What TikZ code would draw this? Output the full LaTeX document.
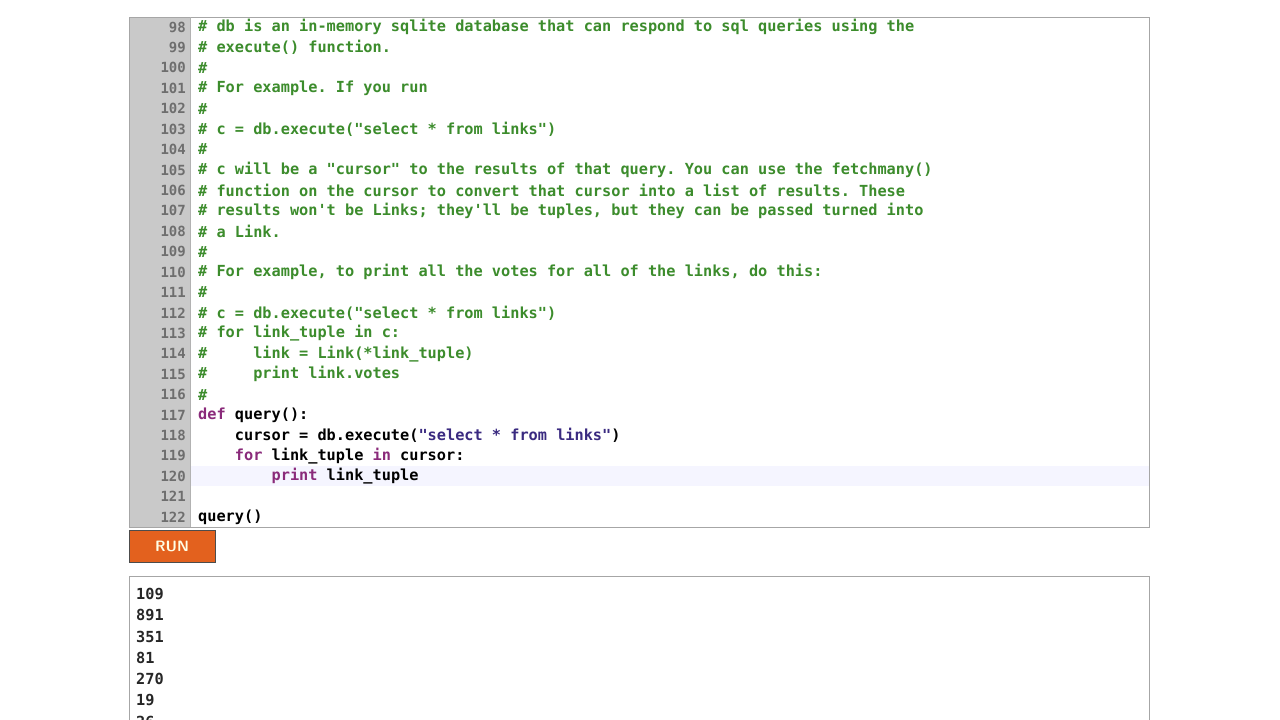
\documentclass[tikz,border=0pt]{standalone}
\usepackage{fontspec}
\setmonofont{DejaVu Sans Mono}
\definecolor{cmt}{HTML}{3C8C2C}
\definecolor{kw}{HTML}{8A2A7A}
\definecolor{str}{HTML}{3A2A80}
\definecolor{gut}{HTML}{C9C9C9}
\definecolor{num}{HTML}{6E6E6E}
\definecolor{runor}{HTML}{E3611E}
\newcommand\Kw[1]{\textcolor{kw}{#1}}
\newcommand\Sx[1]{\textcolor{str}{#1}}
\newcommand\CL[2]{\node[code,text=cmt] (c#1) at (198,{27+20.42*(#1-98)}) {#2};}
\begin{document}
\begin{tikzpicture}[x=1pt,y=-1pt,
  code/.style={anchor=west,inner sep=0pt,font=\ttfamily\bfseries\fontsize{15.25}{16}\selectfont},
  lnum/.style={anchor=east,inner sep=0pt,text=num,font=\ttfamily\bfseries\fontsize{14}{16}\selectfont}]
\useasboundingbox (0,0) rectangle (1280,720);
\fill[white] (0,0) rectangle (1280,720);
% editor
\fill[gut] (129,17) rectangle (190,527);
\fill[blue!4] (190,466) rectangle (1149,486);
\draw[gray!70,line width=1pt] (129,17) rectangle (1149,527);
\draw[gray!60] (190,17) -- (190,527);
\foreach \n [count=\i from 0] in {98,...,122}
  \node[lnum] (n\n) at (186,{27+20.42*\i}) {\n};
\CL{98}{\# db is an in-memory sqlite database that can respond to sql queries using the}
\CL{99}{\# execute() function.}
\CL{100}{\#}
\CL{101}{\# For example. If you run}
\CL{102}{\#}
\CL{103}{\# c = db.execute("select * from links")}
\CL{104}{\#}
\CL{105}{\# c will be a "cursor" to the results of that query. You can use the fetchmany()}
\CL{106}{\# function on the cursor to convert that cursor into a list of results. These}
\CL{107}{\# results won't be Links; they'll be tuples, but they can be passed turned into}
\CL{108}{\# a Link.}
\CL{109}{\#}
\CL{110}{\# For example, to print all the votes for all of the links, do this:}
\CL{111}{\#}
\CL{112}{\# c = db.execute("select * from links")}
\CL{113}{\# for link\_tuple in c:}
\CL{114}{\#\ \ \ \ \ link = Link(*link\_tuple)}
\CL{115}{\#\ \ \ \ \ print link.votes}
\CL{116}{\#}
\node[code] (c117) at (198,{27+20.42*19}) {\Kw{def} query():};
\node[code] (c118) at (198,{27+20.42*20}) {\ \ \ \ cursor = db.execute(\Sx{"select * from links"})};
\node[code] (c119) at (198,{27+20.42*21}) {\ \ \ \ \Kw{for} link\_tuple \Kw{in} cursor:};
\node[code] (c120) at (198,{27+20.42*22}) {\ \ \ \ \ \ \ \ \Kw{print} link\_tuple};
\node[code] (c122) at (198,{27+20.42*24}) {query()};
% run button
\node[draw=black!70,fill=runor,minimum width=86,minimum height=32,inner sep=0pt,text=white!90!yellow,
  font=\sffamily\bfseries\fontsize{15}{16}\selectfont] (run) at (172,546) {RUN};
% output
\draw[gray!70,line width=1pt] (129,725) -- (129,576) -- (1149,576) -- (1149,725);
\foreach \v [count=\i from 0] in {109,891,351,81,270,19,26}
  \node[code,text=black!85] (o\i) at (136,{594+21.3*\i}) {\v};
\end{tikzpicture}
\end{document}
